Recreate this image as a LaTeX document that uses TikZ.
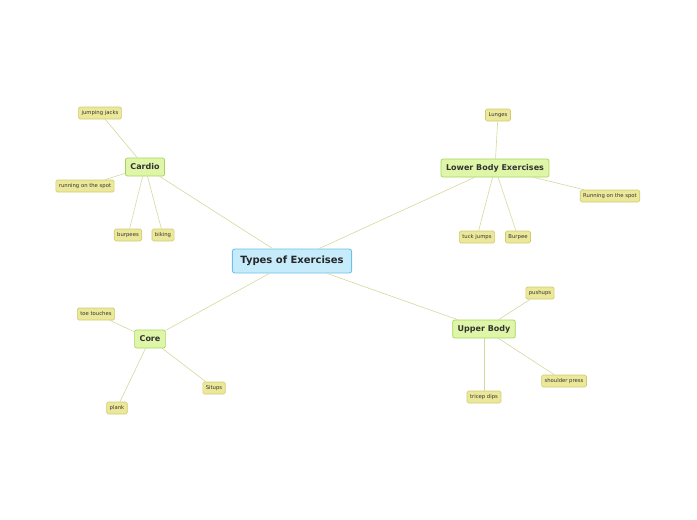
\documentclass[tikz,border=0pt]{standalone}
\usepackage{fontspec}
\setmainfont{DejaVu Sans}
\definecolor{leaff}{HTML}{ECE89A}\definecolor{leafd}{HTML}{CFCB72}
\definecolor{brf}{HTML}{DFF6A9}\definecolor{brd}{HTML}{A5D45C}
\definecolor{cf}{HTML}{C6ECFC}\definecolor{cd}{HTML}{6CBFE6}
\definecolor{ln}{HTML}{D3D99B}
\begin{document}
\begin{tikzpicture}[x=1pt,y=-1pt,
 leaf/.style={draw=leafd,fill=leaff,rounded corners=1.5pt,font=\fontsize{5.3}{6}\selectfont,text=black!80,minimum height=12pt,inner xsep=3pt,inner ysep=0pt,line width=0.6pt},
 br/.style={draw=brd,fill=brf,rounded corners=2pt,font=\bfseries\fontsize{8}{9}\selectfont,text=black!80,minimum height=18pt,inner xsep=5pt,inner ysep=0pt,line width=0.7pt},
 ctr/.style={draw=cd,fill=cf,rounded corners=2.5pt,font=\bfseries\fontsize{10}{12}\selectfont,text=black!85,minimum height=24pt,inner xsep=8pt,inner ysep=0pt,line width=0.9pt},
 con/.style={draw=ln,line width=0.6pt}]
\useasboundingbox (0,0) rectangle (697,520);
\node[ctr] (c) at (292,261) {Types of Exercises};
\node[br] (cardio) at (145,167) {Cardio};
\node[leaf] (jj) at (100,113) {jumping jacks};
\node[leaf] (ros) at (85,186) {running on the spot};
\node[leaf] (bur) at (128,235) {burpees};
\node[leaf] (bik) at (163,235) {biking};
\node[br] (low) at (495,168) {Lower Body Exercises};
\node[leaf] (lun) at (498,115) {Lunges};
\node[leaf] (ros2) at (610,196) {Running on the spot};
\node[leaf] (tj) at (477,237) {tuck jumps};
\node[leaf] (bp) at (518,237) {Burpee};
\node[br] (core) at (150,339) {Core};
\node[leaf] (tt) at (96,314) {toe touches};
\node[leaf] (pl) at (117,408) {plank};
\node[leaf] (sit) at (214,388) {Situps};
\node[br] (up) at (484,329) {Upper Body};
\node[leaf] (pu) at (540,293) {pushups};
\node[leaf] (sp) at (564,381) {shoulder press};
\node[leaf] (td) at (484,397) {tricep dips};
\begin{scope}[on background layer/.style={}]
\draw[con] (c) -- (cardio); \draw[con] (c) -- (low); \draw[con] (c) -- (core); \draw[con] (c) -- (up);
\draw[con] (cardio) -- (jj); \draw[con] (cardio) -- (ros); \draw[con] (cardio) -- (bur); \draw[con] (cardio) -- (bik);
\draw[con] (low) -- (lun); \draw[con] (low) -- (ros2); \draw[con] (low) -- (tj); \draw[con] (low) -- (bp);
\draw[con] (core) -- (tt); \draw[con] (core) -- (pl); \draw[con] (core) -- (sit);
\draw[con] (up) -- (pu); \draw[con] (up) -- (sp); \draw[con] (up) -- (td);
\end{scope}
\end{tikzpicture}
\end{document}
